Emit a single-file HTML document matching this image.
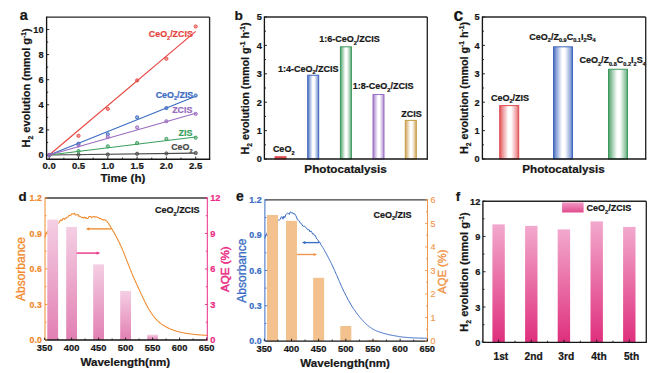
<!DOCTYPE html>
<html><head><meta charset="utf-8"><style>
html,body{margin:0;padding:0;background:#fff;}
svg{display:block;font-family:"Liberation Sans", sans-serif;}
</style></head><body>
<svg width="660" height="373" viewBox="0 0 660 373">
<rect width="660" height="373" fill="#fff"/>
<text x="19.70" y="19.80" font-size="14.5" text-anchor="start" fill="#161616" font-weight="bold"  stroke="#161616" stroke-width="0.22"><tspan>a</tspan></text>
<line x1="46.60" y1="155.00" x2="49.20" y2="155.00" stroke="#161616" stroke-width="0.9" />
<line x1="46.60" y1="142.45" x2="48.20" y2="142.45" stroke="#161616" stroke-width="0.9" />
<line x1="46.60" y1="129.90" x2="49.20" y2="129.90" stroke="#161616" stroke-width="0.9" />
<line x1="46.60" y1="117.35" x2="48.20" y2="117.35" stroke="#161616" stroke-width="0.9" />
<line x1="46.60" y1="104.80" x2="49.20" y2="104.80" stroke="#161616" stroke-width="0.9" />
<line x1="46.60" y1="92.25" x2="48.20" y2="92.25" stroke="#161616" stroke-width="0.9" />
<line x1="46.60" y1="79.70" x2="49.20" y2="79.70" stroke="#161616" stroke-width="0.9" />
<line x1="46.60" y1="67.15" x2="48.20" y2="67.15" stroke="#161616" stroke-width="0.9" />
<line x1="46.60" y1="54.60" x2="49.20" y2="54.60" stroke="#161616" stroke-width="0.9" />
<line x1="46.60" y1="42.05" x2="48.20" y2="42.05" stroke="#161616" stroke-width="0.9" />
<line x1="46.60" y1="29.50" x2="49.20" y2="29.50" stroke="#161616" stroke-width="0.9" />
<text x="43.60" y="158.40" font-size="9.2" text-anchor="end" fill="#161616" font-weight="bold"  stroke="#161616" stroke-width="0.22"><tspan>0</tspan></text>
<text x="43.60" y="133.30" font-size="9.2" text-anchor="end" fill="#161616" font-weight="bold"  stroke="#161616" stroke-width="0.22"><tspan>2</tspan></text>
<text x="43.60" y="108.20" font-size="9.2" text-anchor="end" fill="#161616" font-weight="bold"  stroke="#161616" stroke-width="0.22"><tspan>4</tspan></text>
<text x="43.60" y="83.10" font-size="9.2" text-anchor="end" fill="#161616" font-weight="bold"  stroke="#161616" stroke-width="0.22"><tspan>6</tspan></text>
<text x="43.60" y="58.00" font-size="9.2" text-anchor="end" fill="#161616" font-weight="bold"  stroke="#161616" stroke-width="0.22"><tspan>8</tspan></text>
<text x="43.60" y="32.90" font-size="9.2" text-anchor="end" fill="#161616" font-weight="bold"  stroke="#161616" stroke-width="0.22"><tspan>10</tspan></text>
<line x1="49.20" y1="159.20" x2="49.20" y2="156.60" stroke="#161616" stroke-width="0.9" />
<line x1="63.85" y1="159.20" x2="63.85" y2="157.60" stroke="#161616" stroke-width="0.9" />
<line x1="78.50" y1="159.20" x2="78.50" y2="156.60" stroke="#161616" stroke-width="0.9" />
<line x1="93.15" y1="159.20" x2="93.15" y2="157.60" stroke="#161616" stroke-width="0.9" />
<line x1="107.80" y1="159.20" x2="107.80" y2="156.60" stroke="#161616" stroke-width="0.9" />
<line x1="122.45" y1="159.20" x2="122.45" y2="157.60" stroke="#161616" stroke-width="0.9" />
<line x1="137.10" y1="159.20" x2="137.10" y2="156.60" stroke="#161616" stroke-width="0.9" />
<line x1="151.75" y1="159.20" x2="151.75" y2="157.60" stroke="#161616" stroke-width="0.9" />
<line x1="166.40" y1="159.20" x2="166.40" y2="156.60" stroke="#161616" stroke-width="0.9" />
<line x1="181.05" y1="159.20" x2="181.05" y2="157.60" stroke="#161616" stroke-width="0.9" />
<line x1="195.70" y1="159.20" x2="195.70" y2="156.60" stroke="#161616" stroke-width="0.9" />
<text x="49.20" y="168.90" font-size="9.5" text-anchor="middle" fill="#161616" font-weight="bold"  stroke="#161616" stroke-width="0.22"><tspan>0.0</tspan></text>
<text x="78.50" y="168.90" font-size="9.5" text-anchor="middle" fill="#161616" font-weight="bold"  stroke="#161616" stroke-width="0.22"><tspan>0.5</tspan></text>
<text x="107.80" y="168.90" font-size="9.5" text-anchor="middle" fill="#161616" font-weight="bold"  stroke="#161616" stroke-width="0.22"><tspan>1.0</tspan></text>
<text x="137.10" y="168.90" font-size="9.5" text-anchor="middle" fill="#161616" font-weight="bold"  stroke="#161616" stroke-width="0.22"><tspan>1.5</tspan></text>
<text x="166.40" y="168.90" font-size="9.5" text-anchor="middle" fill="#161616" font-weight="bold"  stroke="#161616" stroke-width="0.22"><tspan>2.0</tspan></text>
<text x="195.70" y="168.90" font-size="9.5" text-anchor="middle" fill="#161616" font-weight="bold"  stroke="#161616" stroke-width="0.22"><tspan>2.5</tspan></text>
<text x="122.90" y="181.60" font-size="11.6" text-anchor="middle" fill="#161616" font-weight="bold"  stroke="#161616" stroke-width="0.22"><tspan>Time (h)</tspan></text>
<text transform="translate(29.90,87.90) rotate(-90)" font-size="11.0" text-anchor="middle" fill="#161616" font-weight="bold"  stroke="#161616" stroke-width="0.22"><tspan>H</tspan><tspan dy="3.41" font-size="6.82">2</tspan><tspan dy="-3.41"> evolution (mmol g</tspan><tspan dy="-4.18" font-size="6.82">-1</tspan><tspan dy="4.18">)</tspan></text>
<line x1="49.20" y1="155.00" x2="195.70" y2="153.12" stroke="#4a4a4a" stroke-width="1.15" />
<circle cx="49.20" cy="155.00" r="1.6" fill="#4a4a4a" fill-opacity="0.5" stroke="#4a4a4a" stroke-width="0.95"/>
<circle cx="78.50" cy="154.75" r="1.6" fill="#4a4a4a" fill-opacity="0.5" stroke="#4a4a4a" stroke-width="0.95"/>
<circle cx="107.80" cy="154.50" r="1.6" fill="#4a4a4a" fill-opacity="0.5" stroke="#4a4a4a" stroke-width="0.95"/>
<circle cx="137.10" cy="153.75" r="1.6" fill="#4a4a4a" fill-opacity="0.5" stroke="#4a4a4a" stroke-width="0.95"/>
<circle cx="166.40" cy="153.49" r="1.6" fill="#4a4a4a" fill-opacity="0.5" stroke="#4a4a4a" stroke-width="0.95"/>
<circle cx="195.70" cy="152.99" r="1.6" fill="#4a4a4a" fill-opacity="0.5" stroke="#4a4a4a" stroke-width="0.95"/>
<line x1="49.20" y1="155.00" x2="195.70" y2="137.05" stroke="#3a9f5c" stroke-width="1.15" />
<circle cx="49.20" cy="155.00" r="1.6" fill="#3a9f5c" fill-opacity="0.5" stroke="#3a9f5c" stroke-width="0.95"/>
<circle cx="78.50" cy="151.11" r="1.6" fill="#3a9f5c" fill-opacity="0.5" stroke="#3a9f5c" stroke-width="0.95"/>
<circle cx="107.80" cy="146.34" r="1.6" fill="#3a9f5c" fill-opacity="0.5" stroke="#3a9f5c" stroke-width="0.95"/>
<circle cx="137.10" cy="143.08" r="1.6" fill="#3a9f5c" fill-opacity="0.5" stroke="#3a9f5c" stroke-width="0.95"/>
<circle cx="166.40" cy="138.94" r="1.6" fill="#3a9f5c" fill-opacity="0.5" stroke="#3a9f5c" stroke-width="0.95"/>
<circle cx="195.70" cy="137.68" r="1.6" fill="#3a9f5c" fill-opacity="0.5" stroke="#3a9f5c" stroke-width="0.95"/>
<line x1="49.20" y1="155.00" x2="195.70" y2="31.38" stroke="#e8453f" stroke-width="1.15" />
<circle cx="49.20" cy="155.00" r="1.6" fill="#e8453f" fill-opacity="0.5" stroke="#e8453f" stroke-width="0.95"/>
<circle cx="78.50" cy="135.80" r="1.6" fill="#e8453f" fill-opacity="0.5" stroke="#e8453f" stroke-width="0.95"/>
<circle cx="107.80" cy="108.82" r="1.6" fill="#e8453f" fill-opacity="0.5" stroke="#e8453f" stroke-width="0.95"/>
<circle cx="137.10" cy="80.45" r="1.6" fill="#e8453f" fill-opacity="0.5" stroke="#e8453f" stroke-width="0.95"/>
<circle cx="166.40" cy="58.74" r="1.6" fill="#e8453f" fill-opacity="0.5" stroke="#e8453f" stroke-width="0.95"/>
<circle cx="195.70" cy="26.49" r="1.6" fill="#e8453f" fill-opacity="0.5" stroke="#e8453f" stroke-width="0.95"/>
<line x1="49.20" y1="155.00" x2="195.70" y2="96.27" stroke="#3b6bc3" stroke-width="1.15" />
<circle cx="49.20" cy="155.00" r="1.6" fill="#3b6bc3" fill-opacity="0.5" stroke="#3b6bc3" stroke-width="0.95"/>
<circle cx="78.50" cy="143.70" r="1.6" fill="#3b6bc3" fill-opacity="0.5" stroke="#3b6bc3" stroke-width="0.95"/>
<circle cx="107.80" cy="134.29" r="1.6" fill="#3b6bc3" fill-opacity="0.5" stroke="#3b6bc3" stroke-width="0.95"/>
<circle cx="137.10" cy="117.35" r="1.6" fill="#3b6bc3" fill-opacity="0.5" stroke="#3b6bc3" stroke-width="0.95"/>
<circle cx="166.40" cy="108.06" r="1.6" fill="#3b6bc3" fill-opacity="0.5" stroke="#3b6bc3" stroke-width="0.95"/>
<circle cx="195.70" cy="95.51" r="1.6" fill="#3b6bc3" fill-opacity="0.5" stroke="#3b6bc3" stroke-width="0.95"/>
<line x1="49.20" y1="155.00" x2="195.70" y2="113.21" stroke="#9a6cc0" stroke-width="1.15" />
<circle cx="49.20" cy="155.00" r="1.6" fill="#9a6cc0" fill-opacity="0.5" stroke="#9a6cc0" stroke-width="0.95"/>
<circle cx="78.50" cy="145.46" r="1.6" fill="#9a6cc0" fill-opacity="0.5" stroke="#9a6cc0" stroke-width="0.95"/>
<circle cx="107.80" cy="136.93" r="1.6" fill="#9a6cc0" fill-opacity="0.5" stroke="#9a6cc0" stroke-width="0.95"/>
<circle cx="137.10" cy="127.39" r="1.6" fill="#9a6cc0" fill-opacity="0.5" stroke="#9a6cc0" stroke-width="0.95"/>
<circle cx="166.40" cy="121.24" r="1.6" fill="#9a6cc0" fill-opacity="0.5" stroke="#9a6cc0" stroke-width="0.95"/>
<circle cx="195.70" cy="113.84" r="1.6" fill="#9a6cc0" fill-opacity="0.5" stroke="#9a6cc0" stroke-width="0.95"/>
<text x="148.80" y="37.10" font-size="8.9" text-anchor="start" fill="#e8453f" font-weight="bold"  stroke="#e8453f" stroke-width="0.22"><tspan>CeO</tspan><tspan dy="2.76" font-size="5.52">2</tspan><tspan dy="-2.76">/ZCIS</tspan></text>
<text x="155.70" y="97.50" font-size="8.9" text-anchor="start" fill="#3b6bc3" font-weight="bold"  stroke="#3b6bc3" stroke-width="0.22"><tspan>CeO</tspan><tspan dy="2.76" font-size="5.52">2</tspan><tspan dy="-2.76">/ZIS</tspan></text>
<text x="172.20" y="113.20" font-size="8.9" text-anchor="start" fill="#9a6cc0" font-weight="bold"  stroke="#9a6cc0" stroke-width="0.22"><tspan>ZCIS</tspan></text>
<text x="178.60" y="136.30" font-size="8.9" text-anchor="start" fill="#3a9f5c" font-weight="bold"  stroke="#3a9f5c" stroke-width="0.22"><tspan>ZIS</tspan></text>
<text x="171.20" y="150.40" font-size="8.9" text-anchor="start" fill="#4a4a4a" font-weight="bold"  stroke="#4a4a4a" stroke-width="0.22"><tspan>CeO</tspan><tspan dy="2.76" font-size="5.52">2</tspan></text>
<line x1="46.60" y1="17.10" x2="209.60" y2="17.10" stroke="#262626" stroke-width="1.35" />
<line x1="209.60" y1="17.10" x2="209.60" y2="159.75" stroke="#262626" stroke-width="1.35" />
<line x1="46.60" y1="159.20" x2="210.15" y2="159.20" stroke="#161616" stroke-width="1.35" />
<line x1="46.60" y1="16.55" x2="46.60" y2="159.75" stroke="#161616" stroke-width="1.35" />
<defs>
<linearGradient id="gr" x1="0" y1="0" x2="1" y2="0"><stop offset="0" stop-color="#e04a4f" stop-opacity="0.95"/><stop offset="0.15" stop-color="#e04a4f" stop-opacity="0.6"/><stop offset="0.45" stop-color="#e04a4f" stop-opacity="0"/><stop offset="0.6" stop-color="#e04a4f" stop-opacity="0"/><stop offset="0.88" stop-color="#e04a4f" stop-opacity="0.55"/><stop offset="1" stop-color="#e04a4f" stop-opacity="0.9"/></linearGradient>
<linearGradient id="gb" x1="0" y1="0" x2="1" y2="0"><stop offset="0" stop-color="#3e66bf" stop-opacity="0.95"/><stop offset="0.15" stop-color="#3e66bf" stop-opacity="0.6"/><stop offset="0.45" stop-color="#3e66bf" stop-opacity="0"/><stop offset="0.6" stop-color="#3e66bf" stop-opacity="0"/><stop offset="0.88" stop-color="#3e66bf" stop-opacity="0.55"/><stop offset="1" stop-color="#3e66bf" stop-opacity="0.9"/></linearGradient>
<linearGradient id="gg" x1="0" y1="0" x2="1" y2="0"><stop offset="0" stop-color="#3f9a5e" stop-opacity="0.95"/><stop offset="0.15" stop-color="#3f9a5e" stop-opacity="0.6"/><stop offset="0.45" stop-color="#3f9a5e" stop-opacity="0"/><stop offset="0.6" stop-color="#3f9a5e" stop-opacity="0"/><stop offset="0.88" stop-color="#3f9a5e" stop-opacity="0.55"/><stop offset="1" stop-color="#3f9a5e" stop-opacity="0.9"/></linearGradient>
<linearGradient id="gp" x1="0" y1="0" x2="1" y2="0"><stop offset="0" stop-color="#9a6fc4" stop-opacity="0.95"/><stop offset="0.15" stop-color="#9a6fc4" stop-opacity="0.6"/><stop offset="0.45" stop-color="#9a6fc4" stop-opacity="0"/><stop offset="0.6" stop-color="#9a6fc4" stop-opacity="0"/><stop offset="0.88" stop-color="#9a6fc4" stop-opacity="0.55"/><stop offset="1" stop-color="#9a6fc4" stop-opacity="0.9"/></linearGradient>
<linearGradient id="go" x1="0" y1="0" x2="1" y2="0"><stop offset="0" stop-color="#c99a45" stop-opacity="0.95"/><stop offset="0.15" stop-color="#c99a45" stop-opacity="0.6"/><stop offset="0.45" stop-color="#c99a45" stop-opacity="0"/><stop offset="0.6" stop-color="#c99a45" stop-opacity="0"/><stop offset="0.88" stop-color="#c99a45" stop-opacity="0.55"/><stop offset="1" stop-color="#c99a45" stop-opacity="0.9"/></linearGradient>
<linearGradient id="gpink" x1="0" y1="0" x2="0" y2="1"><stop offset="0" stop-color="#f4cfe3"/><stop offset="1" stop-color="#e27fb3"/></linearGradient>
<linearGradient id="gmag" x1="0" y1="0" x2="0" y2="1"><stop offset="0" stop-color="#f2a9cd"/><stop offset="1" stop-color="#df2f7d"/></linearGradient>
<linearGradient id="gleg" x1="0" y1="0" x2="0" y2="1"><stop offset="0" stop-color="#f09ac4"/><stop offset="1" stop-color="#e04a8e"/></linearGradient>
</defs>
<text x="234.50" y="19.80" font-size="13.7" text-anchor="start" fill="#161616" font-weight="bold"  stroke="#161616" stroke-width="0.22"><tspan>b</tspan></text>
<line x1="264.40" y1="159.00" x2="267.00" y2="159.00" stroke="#161616" stroke-width="0.9" />
<line x1="264.40" y1="144.80" x2="266.00" y2="144.80" stroke="#161616" stroke-width="0.9" />
<line x1="264.40" y1="130.60" x2="267.00" y2="130.60" stroke="#161616" stroke-width="0.9" />
<line x1="264.40" y1="116.40" x2="266.00" y2="116.40" stroke="#161616" stroke-width="0.9" />
<line x1="264.40" y1="102.20" x2="267.00" y2="102.20" stroke="#161616" stroke-width="0.9" />
<line x1="264.40" y1="88.00" x2="266.00" y2="88.00" stroke="#161616" stroke-width="0.9" />
<line x1="264.40" y1="73.80" x2="267.00" y2="73.80" stroke="#161616" stroke-width="0.9" />
<line x1="264.40" y1="59.60" x2="266.00" y2="59.60" stroke="#161616" stroke-width="0.9" />
<line x1="264.40" y1="45.40" x2="267.00" y2="45.40" stroke="#161616" stroke-width="0.9" />
<line x1="264.40" y1="31.20" x2="266.00" y2="31.20" stroke="#161616" stroke-width="0.9" />
<line x1="264.40" y1="17.00" x2="267.00" y2="17.00" stroke="#161616" stroke-width="0.9" />
<text x="259.30" y="162.40" font-size="9.2" text-anchor="middle" fill="#161616" font-weight="bold"  stroke="#161616" stroke-width="0.22"><tspan>0</tspan></text>
<text x="259.30" y="134.00" font-size="9.2" text-anchor="middle" fill="#161616" font-weight="bold"  stroke="#161616" stroke-width="0.22"><tspan>1</tspan></text>
<text x="259.30" y="105.60" font-size="9.2" text-anchor="middle" fill="#161616" font-weight="bold"  stroke="#161616" stroke-width="0.22"><tspan>2</tspan></text>
<text x="259.30" y="77.20" font-size="9.2" text-anchor="middle" fill="#161616" font-weight="bold"  stroke="#161616" stroke-width="0.22"><tspan>3</tspan></text>
<text x="259.30" y="48.80" font-size="9.2" text-anchor="middle" fill="#161616" font-weight="bold"  stroke="#161616" stroke-width="0.22"><tspan>4</tspan></text>
<text x="259.30" y="20.40" font-size="9.2" text-anchor="middle" fill="#161616" font-weight="bold"  stroke="#161616" stroke-width="0.22"><tspan>5</tspan></text>
<text x="345.60" y="173.20" font-size="11.7" text-anchor="middle" fill="#161616" font-weight="bold"  stroke="#161616" stroke-width="0.22"><tspan>Photocatalysis</tspan></text>
<text transform="translate(248.80,88.40) rotate(-90)" font-size="10.75" text-anchor="middle" fill="#161616" font-weight="bold"  stroke="#161616" stroke-width="0.22"><tspan>H</tspan><tspan dy="3.33" font-size="6.67">2</tspan><tspan dy="-3.33"> evolution (mmol g</tspan><tspan dy="-4.08" font-size="6.67">-1</tspan><tspan dy="4.08"> h</tspan><tspan dy="-4.08" font-size="6.67">-1</tspan><tspan dy="4.08">)</tspan></text>
<rect x="275.00" y="156.73" width="11.00" height="2.27" fill="#e04a4f" stroke="#e04a4f" stroke-width="1"/>
<rect x="307.70" y="75.22" width="11.00" height="83.78" fill="url(#gb)" stroke="#3e66bf" stroke-width="1"/>
<rect x="340.40" y="46.82" width="11.00" height="112.18" fill="url(#gg)" stroke="#3f9a5e" stroke-width="1"/>
<rect x="373.00" y="94.53" width="11.00" height="64.47" fill="url(#gp)" stroke="#9a6fc4" stroke-width="1"/>
<rect x="405.30" y="120.38" width="11.00" height="38.62" fill="url(#go)" stroke="#c99a45" stroke-width="1"/>
<text x="283.70" y="152.40" font-size="9.0" text-anchor="middle" fill="#161616" font-weight="bold"  stroke="#161616" stroke-width="0.22"><tspan>CeO</tspan><tspan dy="2.79" font-size="5.58">2</tspan></text>
<text x="277.90" y="71.60" font-size="9.0" text-anchor="start" fill="#161616" font-weight="bold"  stroke="#161616" stroke-width="0.22"><tspan>1:4-CeO</tspan><tspan dy="2.79" font-size="5.58">2</tspan><tspan dy="-2.79">/ZCIS</tspan></text>
<text x="319.20" y="42.30" font-size="9.0" text-anchor="start" fill="#161616" font-weight="bold"  stroke="#161616" stroke-width="0.22"><tspan>1:6-CeO</tspan><tspan dy="2.79" font-size="5.58">2</tspan><tspan dy="-2.79">/ZCIS</tspan></text>
<text x="352.80" y="88.80" font-size="9.0" text-anchor="start" fill="#161616" font-weight="bold"  stroke="#161616" stroke-width="0.22"><tspan>1:8-CeO</tspan><tspan dy="2.79" font-size="5.58">2</tspan><tspan dy="-2.79">/ZCIS</tspan></text>
<text x="411.50" y="116.70" font-size="9.0" text-anchor="middle" fill="#161616" font-weight="bold"  stroke="#161616" stroke-width="0.22"><tspan>ZCIS</tspan></text>
<line x1="264.40" y1="17.00" x2="427.30" y2="17.00" stroke="#262626" stroke-width="1.35" />
<line x1="427.30" y1="17.00" x2="427.30" y2="159.55" stroke="#262626" stroke-width="1.35" />
<line x1="264.40" y1="159.00" x2="427.85" y2="159.00" stroke="#161616" stroke-width="1.35" />
<line x1="264.40" y1="16.45" x2="264.40" y2="159.55" stroke="#161616" stroke-width="1.35" />
<text x="453.50" y="21.10" font-size="17.5" text-anchor="start" fill="#161616" font-weight="bold"  stroke="#161616" stroke-width="0.22"><tspan>c</tspan></text>
<line x1="482.40" y1="159.00" x2="485.00" y2="159.00" stroke="#161616" stroke-width="0.9" />
<line x1="482.40" y1="144.80" x2="484.00" y2="144.80" stroke="#161616" stroke-width="0.9" />
<line x1="482.40" y1="130.60" x2="485.00" y2="130.60" stroke="#161616" stroke-width="0.9" />
<line x1="482.40" y1="116.40" x2="484.00" y2="116.40" stroke="#161616" stroke-width="0.9" />
<line x1="482.40" y1="102.20" x2="485.00" y2="102.20" stroke="#161616" stroke-width="0.9" />
<line x1="482.40" y1="88.00" x2="484.00" y2="88.00" stroke="#161616" stroke-width="0.9" />
<line x1="482.40" y1="73.80" x2="485.00" y2="73.80" stroke="#161616" stroke-width="0.9" />
<line x1="482.40" y1="59.60" x2="484.00" y2="59.60" stroke="#161616" stroke-width="0.9" />
<line x1="482.40" y1="45.40" x2="485.00" y2="45.40" stroke="#161616" stroke-width="0.9" />
<line x1="482.40" y1="31.20" x2="484.00" y2="31.20" stroke="#161616" stroke-width="0.9" />
<line x1="482.40" y1="17.00" x2="485.00" y2="17.00" stroke="#161616" stroke-width="0.9" />
<text x="477.00" y="162.40" font-size="9.2" text-anchor="middle" fill="#161616" font-weight="bold"  stroke="#161616" stroke-width="0.22"><tspan>0</tspan></text>
<text x="477.00" y="134.00" font-size="9.2" text-anchor="middle" fill="#161616" font-weight="bold"  stroke="#161616" stroke-width="0.22"><tspan>1</tspan></text>
<text x="477.00" y="105.60" font-size="9.2" text-anchor="middle" fill="#161616" font-weight="bold"  stroke="#161616" stroke-width="0.22"><tspan>2</tspan></text>
<text x="477.00" y="77.20" font-size="9.2" text-anchor="middle" fill="#161616" font-weight="bold"  stroke="#161616" stroke-width="0.22"><tspan>3</tspan></text>
<text x="477.00" y="48.80" font-size="9.2" text-anchor="middle" fill="#161616" font-weight="bold"  stroke="#161616" stroke-width="0.22"><tspan>4</tspan></text>
<text x="477.00" y="20.40" font-size="9.2" text-anchor="middle" fill="#161616" font-weight="bold"  stroke="#161616" stroke-width="0.22"><tspan>5</tspan></text>
<text x="563.50" y="173.20" font-size="11.7" text-anchor="middle" fill="#161616" font-weight="bold"  stroke="#161616" stroke-width="0.22"><tspan>Photocatalysis</tspan></text>
<text transform="translate(467.60,87.90) rotate(-90)" font-size="10.75" text-anchor="middle" fill="#161616" font-weight="bold"  stroke="#161616" stroke-width="0.22"><tspan>H</tspan><tspan dy="3.33" font-size="6.67">2</tspan><tspan dy="-3.33"> evolution (mmol g</tspan><tspan dy="-4.08" font-size="6.67">-1</tspan><tspan dy="4.08"> h</tspan><tspan dy="-4.08" font-size="6.67">-1</tspan><tspan dy="4.08">)</tspan></text>
<rect x="499.70" y="105.61" width="19.00" height="53.39" fill="url(#gr)" stroke="#e04a4f" stroke-width="1"/>
<rect x="553.50" y="46.82" width="19.00" height="112.18" fill="url(#gb)" stroke="#3e66bf" stroke-width="1"/>
<rect x="608.50" y="69.26" width="19.00" height="89.74" fill="url(#gg)" stroke="#3f9a5e" stroke-width="1"/>
<text x="510.00" y="100.60" font-size="9.0" text-anchor="middle" fill="#161616" font-weight="bold"  stroke="#161616" stroke-width="0.22"><tspan>CeO</tspan><tspan dy="2.79" font-size="5.58">2</tspan><tspan dy="-2.79">/ZIS</tspan></text>
<text x="529.30" y="39.60" font-size="9.0" text-anchor="start" fill="#161616" font-weight="bold"  stroke="#161616" stroke-width="0.22"><tspan>CeO</tspan><tspan dy="2.79" font-size="5.58">2</tspan><tspan dy="-2.79">/Z</tspan><tspan dy="2.79" font-size="5.58">0.9</tspan><tspan dy="-2.79">C</tspan><tspan dy="2.79" font-size="5.58">0.1</tspan><tspan dy="-2.79">I</tspan><tspan dy="2.79" font-size="5.58">2</tspan><tspan dy="-2.79">S</tspan><tspan dy="2.79" font-size="5.58">4</tspan></text>
<text x="579.40" y="63.40" font-size="9.0" text-anchor="start" fill="#161616" font-weight="bold"  stroke="#161616" stroke-width="0.22"><tspan>CeO</tspan><tspan dy="2.79" font-size="5.58">2</tspan><tspan dy="-2.79">/Z</tspan><tspan dy="2.79" font-size="5.58">0.8</tspan><tspan dy="-2.79">C</tspan><tspan dy="2.79" font-size="5.58">0.2</tspan><tspan dy="-2.79">I</tspan><tspan dy="2.79" font-size="5.58">2</tspan><tspan dy="-2.79">S</tspan><tspan dy="2.79" font-size="5.58">4</tspan></text>
<line x1="482.40" y1="17.00" x2="645.70" y2="17.00" stroke="#262626" stroke-width="1.35" />
<line x1="645.70" y1="17.00" x2="645.70" y2="159.55" stroke="#262626" stroke-width="1.35" />
<line x1="482.40" y1="159.00" x2="646.25" y2="159.00" stroke="#161616" stroke-width="1.35" />
<line x1="482.40" y1="16.45" x2="482.40" y2="159.55" stroke="#161616" stroke-width="1.35" />
<text x="18.50" y="200.80" font-size="13.3" text-anchor="start" fill="#161616" font-weight="bold"  stroke="#161616" stroke-width="0.22"><tspan>d</tspan></text>
<polyline points="45.00,237.00 45.11,236.70 45.26,236.30 45.42,235.84 45.61,235.31 45.81,234.75 46.03,234.17 46.26,233.58 46.50,233.02 46.75,232.48 47.00,232.00 47.26,231.56 47.52,231.12 47.80,230.69 48.08,230.28 48.38,229.88 48.68,229.48 48.99,229.09 49.32,228.72 49.66,228.35 50.00,228.00 50.36,227.66 50.73,227.32 51.12,227.00 51.51,226.68 51.92,226.38 52.33,226.09 52.75,225.80 53.16,225.53 53.58,225.26 54.00,225.00 54.42,224.76 54.84,224.54 55.50,223.72 56.40,223.95 57.30,223.20 58.20,223.17 59.10,222.57 60.00,220.70 60.90,219.81 61.80,220.72 62.70,218.92 63.60,218.36 64.50,219.44 65.40,217.98 66.30,218.30 67.20,217.14 68.10,216.94 69.00,215.28 69.90,215.45 70.80,215.14 71.70,213.87 72.60,214.05 73.50,214.00 74.40,213.12 75.30,214.95 76.20,215.03 77.10,214.77 78.00,214.56 78.90,216.56 79.80,216.09 80.70,216.89 81.60,217.48 82.50,217.38 83.40,218.02 84.30,217.17 85.20,218.14 86.10,217.54 87.00,218.57 87.90,218.39 88.80,216.65 89.70,216.49 90.60,216.43 91.50,217.78 92.40,216.67 93.30,217.09 94.20,216.50 95.10,217.00 96.00,216.87 96.90,216.94 97.80,217.56 98.70,217.73 99.60,218.59 100.50,218.41 101.40,219.24 102.30,219.48 103.20,220.18 104.00,219.60 104.37,219.77 104.70,219.92 105.00,220.06 105.29,220.19 105.56,220.33 105.83,220.48 106.10,220.67 106.38,220.89 106.68,221.16 107.00,221.50 107.33,221.89 107.67,222.31 108.00,222.76 108.35,223.25 108.70,223.78 109.06,224.35 109.44,224.95 109.84,225.59 110.26,226.28 110.70,227.00 111.17,227.78 111.67,228.61 112.20,229.49 112.74,230.42 113.30,231.38 113.87,232.36 114.43,233.36 115.00,234.37 115.56,235.39 116.10,236.40 116.63,237.41 117.16,238.41 117.69,239.43 118.22,240.46 118.75,241.50 119.28,242.56 119.81,243.65 120.34,244.77 120.87,245.91 121.40,247.10 121.94,248.33 122.48,249.61 123.02,250.92 123.56,252.27 124.10,253.63 124.64,255.01 125.18,256.39 125.72,257.78 126.26,259.15 126.80,260.50 127.33,261.85 127.86,263.20 128.39,264.56 128.92,265.92 129.45,267.28 129.98,268.63 130.51,269.98 131.04,271.30 131.57,272.61 132.10,273.90 132.64,275.18 133.20,276.48 133.77,277.77 134.34,279.05 134.91,280.32 135.47,281.55 136.02,282.75 136.54,283.90 137.04,284.98 137.50,286.00 137.92,286.92 138.30,287.75 138.65,288.50 138.97,289.20 139.28,289.86 139.59,290.52 139.91,291.19 140.24,291.89 140.60,292.66 141.00,293.50 141.43,294.42 141.87,295.39 142.34,296.39 142.81,297.43 143.30,298.49 143.80,299.57 144.31,300.64 144.83,301.71 145.36,302.77 145.90,303.80 146.45,304.83 147.02,305.87 147.60,306.91 148.19,307.96 148.79,309.00 149.39,310.02 150.00,311.02 150.60,311.99 151.21,312.92 151.80,313.80 152.39,314.64 152.98,315.45 153.57,316.23 154.16,316.97 154.75,317.69 155.34,318.39 155.93,319.05 156.52,319.69 157.11,320.31 157.70,320.90 158.29,321.46 158.88,321.99 159.47,322.48 160.06,322.95 160.65,323.39 161.24,323.82 161.83,324.23 162.42,324.62 163.01,325.01 163.60,325.40 164.18,325.77 164.76,326.13 165.33,326.47 165.89,326.80 166.46,327.11 167.04,327.42 167.63,327.72 168.23,328.01 168.85,328.31 169.50,328.60 170.17,328.89 170.87,329.19 171.58,329.48 172.31,329.76 173.06,330.04 173.81,330.32 174.56,330.58 175.31,330.83 176.06,331.07 176.80,331.30 177.54,331.51 178.27,331.71 179.01,331.90 179.75,332.08 180.49,332.25 181.24,332.41 181.98,332.57 182.72,332.71 183.46,332.86 184.20,333.00 184.94,333.14 185.68,333.26 186.42,333.39 187.16,333.50 187.91,333.61 188.65,333.72 189.39,333.82 190.13,333.92 190.86,334.01 191.60,334.10 192.33,334.19 193.05,334.27 193.77,334.34 194.49,334.41 195.21,334.48 195.93,334.55 196.65,334.61 197.39,334.67 198.14,334.74 198.90,334.80 199.71,334.87 200.60,334.94 201.53,335.01 202.47,335.08 203.41,335.14 204.30,335.21 205.14,335.27 205.89,335.32 206.51,335.36 207.00,335.40" fill="none" stroke="#f08a2c" stroke-width="1.05" stroke-linejoin="round" stroke-linecap="round"/>
<rect x="47.30" y="219.59" width="10.8" height="120.41" fill="url(#gpink)"/>
<rect x="66.20" y="226.93" width="10.8" height="113.07" fill="url(#gpink)"/>
<rect x="93.20" y="264.34" width="10.8" height="75.66" fill="url(#gpink)"/>
<rect x="120.20" y="290.86" width="10.8" height="49.14" fill="url(#gpink)"/>
<rect x="147.20" y="334.67" width="10.8" height="5.33" fill="url(#gpink)"/>
<line x1="88.00" y1="228.90" x2="111.00" y2="228.90" stroke="#f08a2c" stroke-width="1.35" />
<polygon points="85.8,228.9 89.3,227.3 89.3,230.5" fill="#f08a2c"/>
<line x1="76.60" y1="253.10" x2="98.00" y2="253.10" stroke="#ea2c86" stroke-width="1.35" />
<polygon points="100.2,253.1 96.7,251.5 96.7,254.7" fill="#ea2c86"/>
<line x1="45.00" y1="198.00" x2="207.30" y2="198.00" stroke="#3c3c3c" stroke-width="1.35" />
<line x1="45.00" y1="197.50" x2="45.00" y2="340.00" stroke="#f08a2c" stroke-width="1.0" />
<line x1="207.30" y1="197.50" x2="207.30" y2="340.50" stroke="#ea2c86" stroke-width="1.0" />
<line x1="45.00" y1="340.00" x2="207.30" y2="340.00" stroke="#161616" stroke-width="1.35" />
<line x1="45.00" y1="340.00" x2="47.40" y2="340.00" stroke="#f08a2c" stroke-width="0.9" />
<line x1="207.30" y1="340.00" x2="204.90" y2="340.00" stroke="#ea2c86" stroke-width="0.9" />
<line x1="45.00" y1="322.24" x2="46.50" y2="322.24" stroke="#f08a2c" stroke-width="0.9" />
<line x1="207.30" y1="322.24" x2="205.80" y2="322.24" stroke="#ea2c86" stroke-width="0.9" />
<line x1="45.00" y1="304.48" x2="47.40" y2="304.48" stroke="#f08a2c" stroke-width="0.9" />
<line x1="207.30" y1="304.48" x2="204.90" y2="304.48" stroke="#ea2c86" stroke-width="0.9" />
<line x1="45.00" y1="286.72" x2="46.50" y2="286.72" stroke="#f08a2c" stroke-width="0.9" />
<line x1="207.30" y1="286.72" x2="205.80" y2="286.72" stroke="#ea2c86" stroke-width="0.9" />
<line x1="45.00" y1="268.96" x2="47.40" y2="268.96" stroke="#f08a2c" stroke-width="0.9" />
<line x1="207.30" y1="268.96" x2="204.90" y2="268.96" stroke="#ea2c86" stroke-width="0.9" />
<line x1="45.00" y1="251.20" x2="46.50" y2="251.20" stroke="#f08a2c" stroke-width="0.9" />
<line x1="207.30" y1="251.20" x2="205.80" y2="251.20" stroke="#ea2c86" stroke-width="0.9" />
<line x1="45.00" y1="233.44" x2="47.40" y2="233.44" stroke="#f08a2c" stroke-width="0.9" />
<line x1="207.30" y1="233.44" x2="204.90" y2="233.44" stroke="#ea2c86" stroke-width="0.9" />
<line x1="45.00" y1="215.68" x2="46.50" y2="215.68" stroke="#f08a2c" stroke-width="0.9" />
<line x1="207.30" y1="215.68" x2="205.80" y2="215.68" stroke="#ea2c86" stroke-width="0.9" />
<line x1="45.00" y1="197.92" x2="47.40" y2="197.92" stroke="#f08a2c" stroke-width="0.9" />
<line x1="207.30" y1="197.92" x2="204.90" y2="197.92" stroke="#ea2c86" stroke-width="0.9" />
<text x="41.80" y="343.30" font-size="8.8" text-anchor="end" fill="#f08a2c" font-weight="bold"  stroke="#f08a2c" stroke-width="0.22"><tspan>0.0</tspan></text>
<text x="210.20" y="343.30" font-size="9.2" text-anchor="start" fill="#ea2c86" font-weight="bold"  stroke="#ea2c86" stroke-width="0.22"><tspan>0</tspan></text>
<text x="41.80" y="307.78" font-size="8.8" text-anchor="end" fill="#f08a2c" font-weight="bold"  stroke="#f08a2c" stroke-width="0.22"><tspan>0.3</tspan></text>
<text x="210.20" y="307.78" font-size="9.2" text-anchor="start" fill="#ea2c86" font-weight="bold"  stroke="#ea2c86" stroke-width="0.22"><tspan>3</tspan></text>
<text x="41.80" y="272.26" font-size="8.8" text-anchor="end" fill="#f08a2c" font-weight="bold"  stroke="#f08a2c" stroke-width="0.22"><tspan>0.6</tspan></text>
<text x="210.20" y="272.26" font-size="9.2" text-anchor="start" fill="#ea2c86" font-weight="bold"  stroke="#ea2c86" stroke-width="0.22"><tspan>6</tspan></text>
<text x="41.80" y="236.74" font-size="8.8" text-anchor="end" fill="#f08a2c" font-weight="bold"  stroke="#f08a2c" stroke-width="0.22"><tspan>0.9</tspan></text>
<text x="210.20" y="236.74" font-size="9.2" text-anchor="start" fill="#ea2c86" font-weight="bold"  stroke="#ea2c86" stroke-width="0.22"><tspan>9</tspan></text>
<text x="41.80" y="201.22" font-size="8.8" text-anchor="end" fill="#f08a2c" font-weight="bold"  stroke="#f08a2c" stroke-width="0.22"><tspan>1.2</tspan></text>
<text x="210.20" y="201.22" font-size="9.2" text-anchor="start" fill="#ea2c86" font-weight="bold"  stroke="#ea2c86" stroke-width="0.22"><tspan>12</tspan></text>
<line x1="44.60" y1="340.00" x2="44.60" y2="337.60" stroke="#161616" stroke-width="0.9" />
<line x1="58.10" y1="340.00" x2="58.10" y2="338.50" stroke="#161616" stroke-width="0.9" />
<line x1="71.60" y1="340.00" x2="71.60" y2="337.60" stroke="#161616" stroke-width="0.9" />
<line x1="85.10" y1="340.00" x2="85.10" y2="338.50" stroke="#161616" stroke-width="0.9" />
<line x1="98.60" y1="340.00" x2="98.60" y2="337.60" stroke="#161616" stroke-width="0.9" />
<line x1="112.10" y1="340.00" x2="112.10" y2="338.50" stroke="#161616" stroke-width="0.9" />
<line x1="125.60" y1="340.00" x2="125.60" y2="337.60" stroke="#161616" stroke-width="0.9" />
<line x1="139.10" y1="340.00" x2="139.10" y2="338.50" stroke="#161616" stroke-width="0.9" />
<line x1="152.60" y1="340.00" x2="152.60" y2="337.60" stroke="#161616" stroke-width="0.9" />
<line x1="166.10" y1="340.00" x2="166.10" y2="338.50" stroke="#161616" stroke-width="0.9" />
<line x1="179.60" y1="340.00" x2="179.60" y2="337.60" stroke="#161616" stroke-width="0.9" />
<line x1="193.10" y1="340.00" x2="193.10" y2="338.50" stroke="#161616" stroke-width="0.9" />
<line x1="206.60" y1="340.00" x2="206.60" y2="337.60" stroke="#161616" stroke-width="0.9" />
<text x="44.60" y="351.00" font-size="9.3" text-anchor="middle" fill="#161616" font-weight="bold"  stroke="#161616" stroke-width="0.22"><tspan>350</tspan></text>
<text x="71.60" y="351.00" font-size="9.3" text-anchor="middle" fill="#161616" font-weight="bold"  stroke="#161616" stroke-width="0.22"><tspan>400</tspan></text>
<text x="98.60" y="351.00" font-size="9.3" text-anchor="middle" fill="#161616" font-weight="bold"  stroke="#161616" stroke-width="0.22"><tspan>450</tspan></text>
<text x="125.60" y="351.00" font-size="9.3" text-anchor="middle" fill="#161616" font-weight="bold"  stroke="#161616" stroke-width="0.22"><tspan>500</tspan></text>
<text x="152.60" y="351.00" font-size="9.3" text-anchor="middle" fill="#161616" font-weight="bold"  stroke="#161616" stroke-width="0.22"><tspan>550</tspan></text>
<text x="179.60" y="351.00" font-size="9.3" text-anchor="middle" fill="#161616" font-weight="bold"  stroke="#161616" stroke-width="0.22"><tspan>600</tspan></text>
<text x="206.60" y="351.00" font-size="9.3" text-anchor="middle" fill="#161616" font-weight="bold"  stroke="#161616" stroke-width="0.22"><tspan>650</tspan></text>
<text x="125.30" y="365.80" font-size="11.6" text-anchor="middle" fill="#161616" font-weight="bold"  stroke="#161616" stroke-width="0.22"><tspan>Wavelength(nm)</tspan></text>
<text transform="translate(25.00,269.00) rotate(-90)" font-size="12.0" text-anchor="middle" fill="#f08a2c" font-weight="normal" stroke="#f08a2c" stroke-width="0.3"><tspan>Absorbance</tspan></text>
<text transform="translate(228.90,269.20) rotate(-90)" font-size="11.6" text-anchor="middle" fill="#ea2c86" font-weight="normal" stroke="#ea2c86" stroke-width="0.5"><tspan>AQE (%)</tspan></text>
<text x="155.00" y="213.00" font-size="9.0" text-anchor="start" fill="#161616" font-weight="bold"  stroke="#161616" stroke-width="0.22"><tspan>CeO</tspan><tspan dy="2.79" font-size="5.58">2</tspan><tspan dy="-2.79">/ZCIS</tspan></text>
<text x="236.00" y="200.90" font-size="13.8" text-anchor="start" fill="#161616" font-weight="bold"  stroke="#161616" stroke-width="0.22"><tspan>e</tspan></text>
<polyline points="265.00,238.04 265.90,234.74 266.80,234.34 267.70,231.06 268.60,231.38 269.50,229.82 270.40,227.87 271.30,228.38 272.20,225.96 273.10,226.33 274.00,224.27 274.90,223.44 275.80,223.60 276.70,223.98 277.60,220.78 278.50,220.06 279.40,220.08 280.30,219.12 281.20,216.94 282.10,216.74 283.00,219.19 283.90,216.03 284.80,217.74 285.70,214.88 286.60,213.70 287.50,213.15 288.40,213.38 289.30,214.50 290.20,211.82 291.10,212.68 292.00,213.01 292.90,212.73 293.80,214.14 294.70,213.77 295.60,215.28 296.50,217.03 297.40,219.75 298.30,220.13 299.20,220.92 300.10,222.81 301.00,223.56 301.90,224.15 302.80,226.02 303.70,226.48 304.60,226.08 305.50,227.40 306.40,227.92 307.30,229.39 308.20,229.82 309.10,229.61 310.00,231.93 310.90,230.87 311.80,232.41 312.70,234.08 313.60,233.73 314.50,235.49 315.40,235.56 316.30,238.04 317.20,239.39 318.10,240.17 319.00,242.11 319.90,242.25 320.80,244.56 321.70,245.84 322.28,246.60 322.78,247.45 323.29,248.34 323.82,249.27 324.36,250.22 324.91,251.19 325.46,252.18 326.01,253.19 326.56,254.19 327.10,255.20 327.64,256.21 328.17,257.23 328.71,258.27 329.25,259.32 329.79,260.38 330.34,261.46 330.88,262.55 331.42,263.65 331.96,264.77 332.50,265.90 333.04,267.05 333.58,268.23 334.12,269.43 334.66,270.64 335.21,271.87 335.75,273.10 336.29,274.33 336.83,275.56 337.36,276.79 337.90,278.00 338.43,279.20 338.94,280.39 339.45,281.58 339.96,282.76 340.46,283.94 340.98,285.13 341.50,286.33 342.05,287.54 342.61,288.76 343.20,290.00 343.82,291.28 344.48,292.60 345.16,293.95 345.86,295.32 346.56,296.68 347.27,298.03 347.98,299.36 348.67,300.63 349.35,301.85 350.00,303.00 350.63,304.08 351.24,305.10 351.84,306.07 352.42,307.00 353.01,307.90 353.58,308.77 354.16,309.62 354.73,310.45 355.31,311.28 355.90,312.10 356.49,312.92 357.08,313.71 357.67,314.49 358.26,315.25 358.85,316.00 359.44,316.73 360.03,317.44 360.62,318.14 361.21,318.83 361.80,319.50 362.39,320.16 362.98,320.80 363.57,321.44 364.16,322.05 364.75,322.66 365.34,323.24 365.93,323.81 366.52,324.36 367.11,324.89 367.70,325.40 368.29,325.89 368.88,326.36 369.47,326.81 370.06,327.25 370.65,327.66 371.24,328.06 371.83,328.44 372.42,328.81 373.01,329.16 373.60,329.50 374.18,329.82 374.76,330.11 375.33,330.38 375.89,330.63 376.46,330.87 377.04,331.10 377.63,331.32 378.23,331.54 378.85,331.77 379.50,332.00 380.17,332.24 380.87,332.47 381.58,332.70 382.31,332.94 383.06,333.16 383.81,333.38 384.56,333.60 385.31,333.81 386.06,334.01 386.80,334.20 387.54,334.38 388.27,334.55 389.01,334.71 389.75,334.86 390.49,335.01 391.24,335.16 391.98,335.29 392.72,335.43 393.46,335.57 394.20,335.70 394.94,335.83 395.68,335.97 396.42,336.10 397.16,336.23 397.91,336.35 398.65,336.47 399.39,336.59 400.13,336.70 400.86,336.80 401.60,336.90 402.33,336.99 403.06,337.08 403.79,337.16 404.52,337.23 405.25,337.30 405.98,337.37 406.71,337.43 407.44,337.49 408.17,337.54 408.90,337.60 409.62,337.65 410.32,337.70 411.01,337.75 411.69,337.79 412.39,337.82 413.10,337.86 413.83,337.90 414.61,337.93 415.43,337.97 416.30,338.00 417.28,338.04 418.40,338.07 419.60,338.11 420.86,338.14 422.11,338.18 423.33,338.21 424.47,338.24 425.49,338.26 426.35,338.28 427.00,338.30" fill="none" stroke="#3a6cc3" stroke-width="1.0" stroke-linejoin="round" stroke-linecap="round"/>
<rect x="266.95" y="214.98" width="11.0" height="126.12" fill="#f2c18d"/>
<rect x="285.97" y="220.86" width="11.0" height="120.24" fill="#f2c18d"/>
<rect x="313.13" y="277.80" width="11.0" height="63.30" fill="#f2c18d"/>
<rect x="340.30" y="326.04" width="11.0" height="15.06" fill="#f2c18d"/>
<rect x="367.46" y="339.92" width="11.0" height="1.18" fill="#f2c18d"/>
<line x1="304.30" y1="242.60" x2="319.30" y2="242.60" stroke="#3a6cc3" stroke-width="1.35" />
<polygon points="301.9,242.6 305.4,241.0 305.4,244.2" fill="#3a6cc3"/>
<line x1="297.00" y1="254.50" x2="315.00" y2="254.50" stroke="#f0954a" stroke-width="1.35" />
<polygon points="317.2,254.5 313.7,252.9 313.7,256.1" fill="#f0954a"/>
<line x1="264.90" y1="199.90" x2="427.50" y2="199.90" stroke="#3c3c3c" stroke-width="1.35" />
<line x1="264.90" y1="199.40" x2="264.90" y2="341.10" stroke="#3a6cc3" stroke-width="1.0" />
<line x1="427.50" y1="199.40" x2="427.50" y2="341.60" stroke="#f0954a" stroke-width="1.0" />
<line x1="264.90" y1="341.10" x2="427.50" y2="341.10" stroke="#161616" stroke-width="1.35" />
<line x1="264.90" y1="341.10" x2="267.30" y2="341.10" stroke="#3a6cc3" stroke-width="0.9" />
<line x1="264.90" y1="323.45" x2="266.40" y2="323.45" stroke="#3a6cc3" stroke-width="0.9" />
<line x1="264.90" y1="305.79" x2="267.30" y2="305.79" stroke="#3a6cc3" stroke-width="0.9" />
<line x1="264.90" y1="288.14" x2="266.40" y2="288.14" stroke="#3a6cc3" stroke-width="0.9" />
<line x1="264.90" y1="270.48" x2="267.30" y2="270.48" stroke="#3a6cc3" stroke-width="0.9" />
<line x1="264.90" y1="252.83" x2="266.40" y2="252.83" stroke="#3a6cc3" stroke-width="0.9" />
<line x1="264.90" y1="235.17" x2="267.30" y2="235.17" stroke="#3a6cc3" stroke-width="0.9" />
<line x1="264.90" y1="217.52" x2="266.40" y2="217.52" stroke="#3a6cc3" stroke-width="0.9" />
<line x1="264.90" y1="199.86" x2="267.30" y2="199.86" stroke="#3a6cc3" stroke-width="0.9" />
<line x1="427.50" y1="341.10" x2="425.10" y2="341.10" stroke="#f0954a" stroke-width="0.9" />
<line x1="427.50" y1="329.34" x2="426.00" y2="329.34" stroke="#f0954a" stroke-width="0.9" />
<line x1="427.50" y1="317.57" x2="425.10" y2="317.57" stroke="#f0954a" stroke-width="0.9" />
<line x1="427.50" y1="305.81" x2="426.00" y2="305.81" stroke="#f0954a" stroke-width="0.9" />
<line x1="427.50" y1="294.04" x2="425.10" y2="294.04" stroke="#f0954a" stroke-width="0.9" />
<line x1="427.50" y1="282.28" x2="426.00" y2="282.28" stroke="#f0954a" stroke-width="0.9" />
<line x1="427.50" y1="270.51" x2="425.10" y2="270.51" stroke="#f0954a" stroke-width="0.9" />
<line x1="427.50" y1="258.75" x2="426.00" y2="258.75" stroke="#f0954a" stroke-width="0.9" />
<line x1="427.50" y1="246.98" x2="425.10" y2="246.98" stroke="#f0954a" stroke-width="0.9" />
<line x1="427.50" y1="235.22" x2="426.00" y2="235.22" stroke="#f0954a" stroke-width="0.9" />
<line x1="427.50" y1="223.45" x2="425.10" y2="223.45" stroke="#f0954a" stroke-width="0.9" />
<line x1="427.50" y1="211.69" x2="426.00" y2="211.69" stroke="#f0954a" stroke-width="0.9" />
<line x1="427.50" y1="199.92" x2="425.10" y2="199.92" stroke="#f0954a" stroke-width="0.9" />
<text x="261.60" y="344.40" font-size="8.8" text-anchor="end" fill="#3a6cc3" font-weight="bold"  stroke="#3a6cc3" stroke-width="0.22"><tspan>0.0</tspan></text>
<text x="261.60" y="309.09" font-size="8.8" text-anchor="end" fill="#3a6cc3" font-weight="bold"  stroke="#3a6cc3" stroke-width="0.22"><tspan>0.3</tspan></text>
<text x="261.60" y="273.78" font-size="8.8" text-anchor="end" fill="#3a6cc3" font-weight="bold"  stroke="#3a6cc3" stroke-width="0.22"><tspan>0.6</tspan></text>
<text x="261.60" y="238.47" font-size="8.8" text-anchor="end" fill="#3a6cc3" font-weight="bold"  stroke="#3a6cc3" stroke-width="0.22"><tspan>0.9</tspan></text>
<text x="261.60" y="203.16" font-size="8.8" text-anchor="end" fill="#3a6cc3" font-weight="bold"  stroke="#3a6cc3" stroke-width="0.22"><tspan>1.2</tspan></text>
<text x="430.60" y="344.40" font-size="9.0" text-anchor="start" fill="#f0954a" font-weight="normal" stroke="#f0954a" stroke-width="0.12"><tspan>0</tspan></text>
<text x="430.60" y="320.87" font-size="9.0" text-anchor="start" fill="#f0954a" font-weight="normal" stroke="#f0954a" stroke-width="0.12"><tspan>1</tspan></text>
<text x="430.60" y="297.34" font-size="9.0" text-anchor="start" fill="#f0954a" font-weight="normal" stroke="#f0954a" stroke-width="0.12"><tspan>2</tspan></text>
<text x="430.60" y="273.81" font-size="9.0" text-anchor="start" fill="#f0954a" font-weight="normal" stroke="#f0954a" stroke-width="0.12"><tspan>3</tspan></text>
<text x="430.60" y="250.28" font-size="9.0" text-anchor="start" fill="#f0954a" font-weight="normal" stroke="#f0954a" stroke-width="0.12"><tspan>4</tspan></text>
<text x="430.60" y="226.75" font-size="9.0" text-anchor="start" fill="#f0954a" font-weight="normal" stroke="#f0954a" stroke-width="0.12"><tspan>5</tspan></text>
<text x="430.60" y="203.22" font-size="9.0" text-anchor="start" fill="#f0954a" font-weight="normal" stroke="#f0954a" stroke-width="0.12"><tspan>6</tspan></text>
<line x1="264.30" y1="341.10" x2="264.30" y2="338.70" stroke="#161616" stroke-width="0.9" />
<line x1="277.88" y1="341.10" x2="277.88" y2="339.60" stroke="#161616" stroke-width="0.9" />
<line x1="291.47" y1="341.10" x2="291.47" y2="338.70" stroke="#161616" stroke-width="0.9" />
<line x1="305.05" y1="341.10" x2="305.05" y2="339.60" stroke="#161616" stroke-width="0.9" />
<line x1="318.63" y1="341.10" x2="318.63" y2="338.70" stroke="#161616" stroke-width="0.9" />
<line x1="332.21" y1="341.10" x2="332.21" y2="339.60" stroke="#161616" stroke-width="0.9" />
<line x1="345.80" y1="341.10" x2="345.80" y2="338.70" stroke="#161616" stroke-width="0.9" />
<line x1="359.38" y1="341.10" x2="359.38" y2="339.60" stroke="#161616" stroke-width="0.9" />
<line x1="372.96" y1="341.10" x2="372.96" y2="338.70" stroke="#161616" stroke-width="0.9" />
<line x1="386.54" y1="341.10" x2="386.54" y2="339.60" stroke="#161616" stroke-width="0.9" />
<line x1="400.12" y1="341.10" x2="400.12" y2="338.70" stroke="#161616" stroke-width="0.9" />
<line x1="413.71" y1="341.10" x2="413.71" y2="339.60" stroke="#161616" stroke-width="0.9" />
<line x1="427.29" y1="341.10" x2="427.29" y2="338.70" stroke="#161616" stroke-width="0.9" />
<text x="264.30" y="352.00" font-size="9.3" text-anchor="middle" fill="#161616" font-weight="bold"  stroke="#161616" stroke-width="0.22"><tspan>350</tspan></text>
<text x="291.47" y="352.00" font-size="9.3" text-anchor="middle" fill="#161616" font-weight="bold"  stroke="#161616" stroke-width="0.22"><tspan>400</tspan></text>
<text x="318.63" y="352.00" font-size="9.3" text-anchor="middle" fill="#161616" font-weight="bold"  stroke="#161616" stroke-width="0.22"><tspan>450</tspan></text>
<text x="345.80" y="352.00" font-size="9.3" text-anchor="middle" fill="#161616" font-weight="bold"  stroke="#161616" stroke-width="0.22"><tspan>500</tspan></text>
<text x="372.96" y="352.00" font-size="9.3" text-anchor="middle" fill="#161616" font-weight="bold"  stroke="#161616" stroke-width="0.22"><tspan>550</tspan></text>
<text x="400.12" y="352.00" font-size="9.3" text-anchor="middle" fill="#161616" font-weight="bold"  stroke="#161616" stroke-width="0.22"><tspan>600</tspan></text>
<text x="427.29" y="352.00" font-size="9.3" text-anchor="middle" fill="#161616" font-weight="bold"  stroke="#161616" stroke-width="0.22"><tspan>650</tspan></text>
<text x="345.10" y="366.80" font-size="11.6" text-anchor="middle" fill="#161616" font-weight="bold"  stroke="#161616" stroke-width="0.22"><tspan>Wavelength(nm)</tspan></text>
<text transform="translate(246.20,270.70) rotate(-90)" font-size="12.0" text-anchor="middle" fill="#3a6cc3" font-weight="normal" stroke="#3a6cc3" stroke-width="0.3"><tspan>Absorbance</tspan></text>
<text transform="translate(446.20,271.60) rotate(-90)" font-size="11.2" text-anchor="middle" fill="#f0954a" font-weight="normal" stroke="#f0954a" stroke-width="0.4"><tspan>AQE (%)</tspan></text>
<text x="373.40" y="217.60" font-size="9.0" text-anchor="start" fill="#161616" font-weight="bold"  stroke="#161616" stroke-width="0.22"><tspan>CeO</tspan><tspan dy="2.79" font-size="5.58">2</tspan><tspan dy="-2.79">/ZIS</tspan></text>
<text x="455.80" y="200.75" font-size="13.3" text-anchor="start" fill="#161616" font-weight="bold"  stroke="#161616" stroke-width="0.22"><tspan>f</tspan></text>
<rect x="492.40" y="224.35" width="12.4" height="117.95" fill="url(#gmag)"/>
<rect x="525.10" y="225.88" width="12.4" height="116.42" fill="url(#gmag)"/>
<rect x="557.70" y="229.40" width="12.4" height="112.90" fill="url(#gmag)"/>
<rect x="590.50" y="221.41" width="12.4" height="120.89" fill="url(#gmag)"/>
<rect x="623.10" y="226.93" width="12.4" height="115.37" fill="url(#gmag)"/>
<rect x="562.1" y="202.4" width="21.5" height="10.1" fill="url(#gleg)"/>
<text x="586.60" y="211.30" font-size="9.0" text-anchor="start" fill="#161616" font-weight="bold"  stroke="#161616" stroke-width="0.22"><tspan>CeO</tspan><tspan dy="2.79" font-size="5.58">2</tspan><tspan dy="-2.79">/ZCIS</tspan></text>
<line x1="482.90" y1="201.20" x2="646.30" y2="201.20" stroke="#262626" stroke-width="1.35" />
<line x1="646.30" y1="201.20" x2="646.30" y2="342.85" stroke="#262626" stroke-width="1.35" />
<line x1="482.90" y1="342.30" x2="646.85" y2="342.30" stroke="#161616" stroke-width="1.35" />
<line x1="482.90" y1="200.65" x2="482.90" y2="342.85" stroke="#161616" stroke-width="1.35" />
<line x1="482.90" y1="342.30" x2="485.50" y2="342.30" stroke="#161616" stroke-width="0.9" />
<line x1="482.90" y1="324.66" x2="484.50" y2="324.66" stroke="#161616" stroke-width="0.9" />
<line x1="482.90" y1="307.02" x2="485.50" y2="307.02" stroke="#161616" stroke-width="0.9" />
<line x1="482.90" y1="289.38" x2="484.50" y2="289.38" stroke="#161616" stroke-width="0.9" />
<line x1="482.90" y1="271.74" x2="485.50" y2="271.74" stroke="#161616" stroke-width="0.9" />
<line x1="482.90" y1="254.10" x2="484.50" y2="254.10" stroke="#161616" stroke-width="0.9" />
<line x1="482.90" y1="236.46" x2="485.50" y2="236.46" stroke="#161616" stroke-width="0.9" />
<line x1="482.90" y1="218.82" x2="484.50" y2="218.82" stroke="#161616" stroke-width="0.9" />
<line x1="482.90" y1="201.18" x2="485.50" y2="201.18" stroke="#161616" stroke-width="0.9" />
<text x="480.30" y="345.80" font-size="9.2" text-anchor="end" fill="#161616" font-weight="bold"  stroke="#161616" stroke-width="0.22"><tspan>0</tspan></text>
<text x="480.30" y="310.52" font-size="9.2" text-anchor="end" fill="#161616" font-weight="bold"  stroke="#161616" stroke-width="0.22"><tspan>3</tspan></text>
<text x="480.30" y="275.24" font-size="9.2" text-anchor="end" fill="#161616" font-weight="bold"  stroke="#161616" stroke-width="0.22"><tspan>6</tspan></text>
<text x="480.30" y="239.96" font-size="9.2" text-anchor="end" fill="#161616" font-weight="bold"  stroke="#161616" stroke-width="0.22"><tspan>9</tspan></text>
<text x="480.30" y="204.68" font-size="9.2" text-anchor="end" fill="#161616" font-weight="bold"  stroke="#161616" stroke-width="0.22"><tspan>12</tspan></text>
<line x1="498.60" y1="342.30" x2="498.60" y2="339.70" stroke="#161616" stroke-width="0.9" />
<line x1="514.95" y1="342.30" x2="514.95" y2="340.70" stroke="#161616" stroke-width="0.9" />
<line x1="531.30" y1="342.30" x2="531.30" y2="339.70" stroke="#161616" stroke-width="0.9" />
<line x1="547.60" y1="342.30" x2="547.60" y2="340.70" stroke="#161616" stroke-width="0.9" />
<line x1="563.90" y1="342.30" x2="563.90" y2="339.70" stroke="#161616" stroke-width="0.9" />
<line x1="580.30" y1="342.30" x2="580.30" y2="340.70" stroke="#161616" stroke-width="0.9" />
<line x1="596.70" y1="342.30" x2="596.70" y2="339.70" stroke="#161616" stroke-width="0.9" />
<line x1="613.00" y1="342.30" x2="613.00" y2="340.70" stroke="#161616" stroke-width="0.9" />
<line x1="629.30" y1="342.30" x2="629.30" y2="339.70" stroke="#161616" stroke-width="0.9" />
<line x1="482.25" y1="342.30" x2="482.25" y2="340.70" stroke="#161616" stroke-width="0.9" />
<text x="500.90" y="359.80" font-size="10.2" text-anchor="middle" fill="#161616" font-weight="bold"  stroke="#161616" stroke-width="0.22"><tspan>1st</tspan></text>
<text x="533.60" y="359.80" font-size="10.2" text-anchor="middle" fill="#161616" font-weight="bold"  stroke="#161616" stroke-width="0.22"><tspan>2nd</tspan></text>
<text x="566.20" y="359.80" font-size="10.2" text-anchor="middle" fill="#161616" font-weight="bold"  stroke="#161616" stroke-width="0.22"><tspan>3rd</tspan></text>
<text x="599.00" y="359.80" font-size="10.2" text-anchor="middle" fill="#161616" font-weight="bold"  stroke="#161616" stroke-width="0.22"><tspan>4th</tspan></text>
<text x="631.60" y="359.80" font-size="10.2" text-anchor="middle" fill="#161616" font-weight="bold"  stroke="#161616" stroke-width="0.22"><tspan>5th</tspan></text>
<text transform="translate(468.00,272.00) rotate(-90)" font-size="11.0" text-anchor="middle" fill="#161616" font-weight="bold"  stroke="#161616" stroke-width="0.22"><tspan>H</tspan><tspan dy="3.41" font-size="6.82">2</tspan><tspan dy="-3.41"> evolution (mmol g</tspan><tspan dy="-4.18" font-size="6.82">-1</tspan><tspan dy="4.18">)</tspan></text>
</svg>
</body></html>
